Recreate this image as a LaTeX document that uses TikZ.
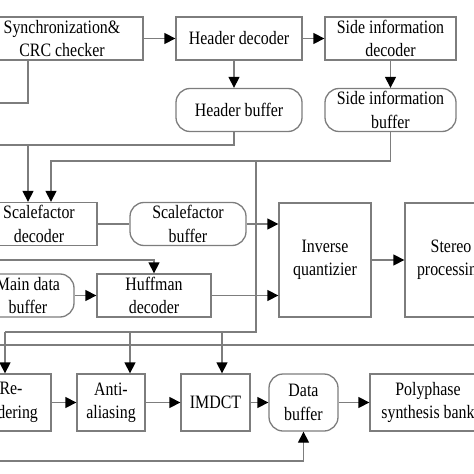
\documentclass[tikz,border=0pt]{standalone}
\usepackage{fontspec}
\setmainfont{Liberation Serif}[FakeStretch=0.84]
\usepackage{xcolor}
\usepackage{tikz}
\usetikzlibrary{arrows.meta,calc}
\definecolor{linegray}{RGB}{125,125,125}
\tikzset{blk/.style={draw=linegray,line width=1.3bp,inner sep=0pt,align=center,minimum height=43bp}}
\tikzset{buf/.style={blk,rounded corners=14bp}}
\tikzset{conn/.style={draw=linegray,line width=1.3bp}}
\tikzset{arr/.style={conn,-{Triangle[length=11bp,width=11bp,color=black]}}}

\begin{document}
\begin{tikzpicture}[x=1bp,y=-1bp,font=\fontsize{19}{23.5}\selectfont]
  \useasboundingbox (0,0) rectangle (474,474);
  \clip (0,0) rectangle (474,474);

  \node[blk,minimum width=162bp] (sync) at (62,38.5) {Synchronization\&\\CRC checker};
  \node[blk,minimum width=126bp] (hd) at (239,38.5) {Header decoder};
  \node[blk,minimum width=131bp] (sid) at (390.5,38.5) {Side information\\decoder};
  \node[buf,minimum width=126bp] (hb) at (239,110) {Header buffer};
  \node[buf,minimum width=131bp] (sib) at (390.5,110) {Side information\\buffer};

  \node[blk,minimum width=116bp] (sfd) at (39,224) {Scalefactor\\decoder};
  \node[buf,minimum width=116bp] (sfb) at (188,224) {Scalefactor\\buffer};
  \node[buf,minimum width=92bp] (mdb) at (28,295.5) {Main data\\buffer};
  \node[blk,minimum width=114bp] (hf) at (154,295.5) {Huffman\\decoder};
  \node[blk,minimum width=92bp,minimum height=114bp] (iq) at (325,260) {Inverse\\quantizier};
  \node[blk,minimum width=92bp,minimum height=114bp] (st) at (451,260) {Stereo\\processing};

  \node[blk,minimum width=80bp,minimum height=57bp] (ro) at (11,402.5) {Re-\\ordering};
  \node[blk,minimum width=68bp,minimum height=57bp] (aa) at (111,402.5) {Anti-\\aliasing};
  \node[blk,minimum width=69bp,minimum height=57bp] (im) at (215.5,402.5) {IMDCT};
  \node[buf,minimum width=69bp,minimum height=57bp] (db) at (303.5,402.5) {Data\\buffer};
  \node[blk,minimum width=116bp,minimum height=57bp] (pp) at (428,402.5) {Polyphase\\synthesis bank};

  \coordinate (w1) at (-5,103);
  \coordinate (w2) at (-5,145);
  \coordinate (w3) at (-5,260);
  \coordinate (w4) at (-5,345);
  \coordinate (e4) at (480,345);
  \coordinate (w5) at (-5,461);
  \coordinate (j1) at (28,145);
  \coordinate (j2) at (51,161);
  \coordinate (j3) at (256,161);
  \coordinate (j4) at (5,332);
  \coordinate (j5) at (130,332);
  \coordinate (j6) at (222,332);

  \draw[arr] (sync) -- (hd);
  \draw[arr] (hd) -- (sid);
  \draw[arr] ([xshift=-5bp]hd.south) -- ([xshift=-5bp]hb.north);
  \draw[arr] (sid) -- (sib);
  \draw[conn] ([xshift=-34bp]sync.south) |- (w1);
  \draw[conn] ([xshift=-5bp]hb.south) |- (w2);
  \draw[arr] (j1) -- (j1 |- sfd.north);
  \draw[arr] (sib) |- (j2) -- (j2 |- sfd.north);
  \draw[conn] (j3) |- (j4);
  \draw[arr] (j4) -- (j4 |- ro.north);
  \draw[arr] (j5) -- (j5 |- aa.north);
  \draw[arr] (j6) -- (j6 |- im.north);
  \draw[conn] (w4) -- (e4);

  \draw[conn] (sfd) -- (sfb);
  \draw[arr] (sfb.east) -- (sfb.east -| iq.west);
  \draw[arr] (w3) -| (hf);
  \draw[arr] (mdb) -- (hf);
  \draw[arr] (hf.east) -- (hf.east -| iq.west);
  \draw[arr] (iq) -- (st);

  \draw[arr] (ro) -- (aa);
  \draw[arr] (aa) -- (im);
  \draw[arr] (im) -- (db);
  \draw[arr] (db) -- (pp);
  \draw[arr] (w5) -| (db);
\end{tikzpicture}
\end{document}
